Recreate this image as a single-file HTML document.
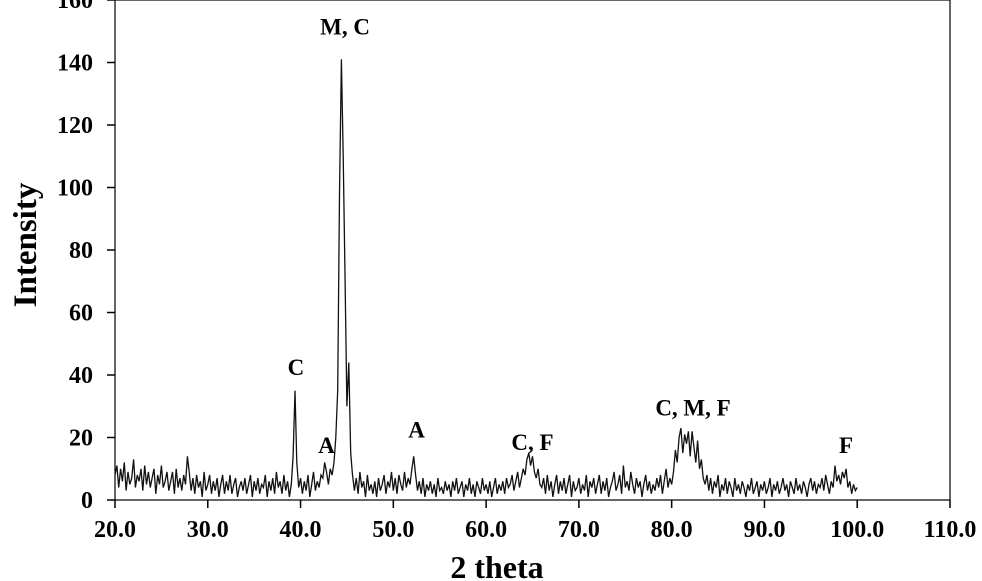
<!DOCTYPE html>
<html><head><meta charset="utf-8"><style>
html,body{margin:0;padding:0;background:#fff;}
svg{display:block;font-family:"Liberation Serif",serif;font-weight:bold;}
</style></head><body>
<svg id="chart" width="982" height="581" viewBox="0 0 982 581"></svg>
<script>
const xTicks=[20,30,40,50,60,70,80,90,100,110];
const xTickLabels=["20.0","30.0","40.0","50.0","60.0","70.0","80.0","90.0","100.0","110.0"];
const yTicks=[0,20,40,60,80,100,120,140,160];
const yTickLabels=["0","20","40","60","80","100","120","140","160"];
const xStart=20, xStep=0.2;
const intensity=[
8,11,4,10,6,12,3,9,5,7,
13,4,8,6,10,3,11,5,9,4,
7,10,2,8,5,11,4,6,9,3,
6,9,2,10,4,7,3,8,5,14,
9,3,7,2,8,4,6,1,9,3,
5,8,2,6,3,7,1,5,8,2,
6,3,8,2,5,7,1,4,6,3,
7,2,5,8,1,6,3,7,2,5,
4,8,1,6,3,7,2,9,4,6,
2,8,3,6,1,5,14,35,12,4,
7,2,6,3,8,1,5,9,3,6,
4,8,7,12,9,5,10,8,12,20,
35,98,141,110,70,30,44,15,8,3,
7,2,9,4,6,1,8,3,5,2,
6,1,7,3,5,8,2,6,4,9,
3,7,2,8,5,3,9,4,7,5,
10,14,8,3,6,2,7,1,5,3,
6,2,5,1,7,3,4,2,6,3,
5,1,6,3,7,2,4,6,1,5,
3,7,2,5,1,6,4,2,7,3,
5,2,6,1,4,7,2,5,3,6,
2,7,4,5,8,3,6,9,4,7,
10,8,13,15,11,14,9,7,10,5,
4,7,2,8,3,6,1,5,8,2,
6,3,7,2,5,8,1,6,3,4,
7,2,5,3,8,1,6,4,7,2,
5,8,2,6,3,7,1,4,6,9,
3,5,8,2,11,4,6,3,9,5,
2,7,4,6,1,5,8,3,6,2,
5,3,7,4,8,2,6,10,4,7,
5,9,16,12,20,23,15,21,18,22,
14,22,17,12,19,10,13,7,5,8,
3,7,2,6,4,8,1,5,3,7,
2,6,4,1,7,3,5,2,6,4,
1,5,3,7,2,4,6,1,5,3,
6,2,4,7,1,5,3,6,2,4,
7,3,5,1,6,4,2,7,3,5,
2,6,4,1,5,7,3,6,2,5,
4,7,3,8,5,2,6,4,11,6,
8,5,9,7,10,4,6,2,5,3,
4];
const peakLabels=["M, C","C","A","A","C, F","C, M, F","F"];
const peakX=[44.8,39.5,42.8,52.5,65.0,82.3,98.8];
const peakY=[149,40,15,20,16,27,15];

const L=115,R=950,T=0,B=500;
const X=v=>L+(v-20)*(R-L)/90;
const Y=v=>B-v*(B-T)/160;
const svg=document.getElementById('chart');
const NS='http://www.w3.org/2000/svg';
function mk(tag,attrs,parent){const e=document.createElementNS(NS,tag);for(const k in attrs)e.setAttribute(k,attrs[k]);(parent||svg).appendChild(e);return e;}

const frame=mk('rect',{x:L,y:T,width:R-L,height:B-T,fill:'none',stroke:'#000','stroke-width':1.2});



yTicks.forEach((t,i)=>{
  const tk=mk('line',{x1:L-8,x2:L,y1:Y(t),y2:Y(t),stroke:'#000','stroke-width':1.5});
  
  
  const tx=mk('text',{x:L-22,y:Y(t)+8,'text-anchor':'end','font-size':24});
  tx.textContent=yTickLabels[i];
  
  
});
xTicks.forEach((t,i)=>{
  const tk=mk('line',{x1:X(t),x2:X(t),y1:B,y2:B+8,stroke:'#000','stroke-width':1.5});
  
  
  const tx=mk('text',{x:X(t),y:B+37,'text-anchor':'middle','font-size':24});
  tx.textContent=xTickLabels[i];
  
  
});

let d='';
intensity.forEach((v,i)=>{const x=X(xStart+i*xStep);d+=(i?'L':'M')+x.toFixed(1)+','+Y(v).toFixed(1);});
const line=mk('path',{d:d,fill:'none',stroke:'#111','stroke-width':1.3});



peakLabels.forEach((s,i)=>{
  const tx=mk('text',{x:X(peakX[i]),y:Y(peakY[i]),'text-anchor':'middle','font-size':23});
  tx.textContent=s;
  
  
});

const xt=mk('text',{x:497,y:578,'text-anchor':'middle','font-size':32});
xt.textContent='2 theta';


const yt=mk('text',{x:0,y:0,'text-anchor':'middle','font-size':33,transform:'translate(36,245) rotate(-90)'});
yt.textContent='Intensity';


</script>
</body></html>
